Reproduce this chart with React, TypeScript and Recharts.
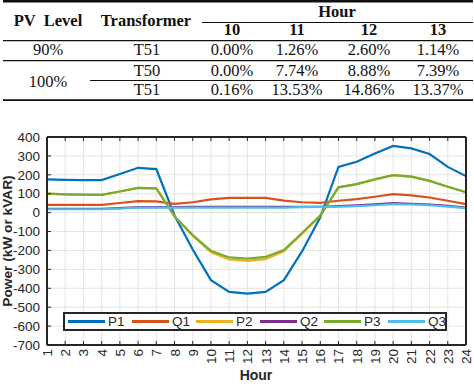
import { LineChart, Line, XAxis, YAxis, CartesianGrid } from 'recharts';

// table
const hourCols = ['10', '11', '12', '13'];
const pvLevels = ['90%', '100%'];
const row90T51 = ['0.00%', '1.26%', '2.60%', '1.14%'];
const row100T50 = ['0.00%', '7.74%', '8.88%', '7.39%'];
const row100T51 = ['0.16%', '13.53%', '14.86%', '13.37%'];

// chart
const hours = [1, 2, 3, 4, 5, 6, 7, 8, 9, 10, 11, 12, 13, 14, 15, 16, 17, 18, 19, 20, 21, 22, 23, 24];
const p1 = [176, 173, 172, 172, 204, 237, 230, -15, -195, -357, -419, -428, -419, -357, -205, -25, 242, 269, 313, 353, 340, 310, 242, 193];
const q1 = [41, 41, 41, 41, 51, 61, 60, 46, 55, 70, 78, 78, 78, 64, 55, 52, 63, 71, 84, 98, 91, 80, 63, 45];
const p2 = [101, 97, 95, 94, 112, 131, 128, -20, -122, -210, -248, -255, -246, -205, -112, -15, 134, 151, 176, 198, 190, 168, 137, 108];
const q2 = [20, 20, 20, 20, 24, 29, 29, 29, 30, 30, 30, 30, 30, 30, 31, 31, 34, 38, 44, 50, 47, 43, 36, 27];
const p3 = [101, 97, 95, 94, 112, 131, 128, -20, -119, -202, -237, -243, -234, -198, -108, -15, 134, 151, 176, 198, 190, 168, 137, 108];
const q3 = [18, 18, 18, 18, 22, 27, 27, 27, 27, 27, 27, 27, 27, 27, 29, 30, 31, 34, 39, 45, 43, 39, 32, 24];
const yTicks = [-700, -600, -500, -400, -300, -200, -100, 0, 100, 200, 300, 400];

const series = [
  { key: 'p1', name: 'P1', color: '#0072BD' },
  { key: 'q1', name: 'Q1', color: '#D95319' },
  { key: 'p2', name: 'P2', color: '#EDB120' },
  { key: 'q2', name: 'Q2', color: '#7E2F8E' },
  { key: 'p3', name: 'P3', color: '#77AC30' },
  { key: 'q3', name: 'Q3', color: '#4DBEEE' },
];

const data = hours.map((h, i) => ({
  hour: h, p1: p1[i], q1: q1[i], p2: p2[i], q2: q2[i], p3: p3[i], q3: q3[i],
}));

const AX = '#262626';
const FONT = '"Liberation Sans", Arial, Helvetica, sans-serif';
const SERIF = '"Liberation Serif", "Times New Roman", serif';

const LeftTick = ({ x, y, payload }: any) => (
  <g>
    <line x1={x} x2={x + 4} y1={y} y2={y} stroke={AX} strokeWidth={1} />
    <text x={x - 7} y={y} dy="0.35em" textAnchor="end" fontSize={13.5} fill={AX} fontFamily={FONT}>
      {payload.value}
    </text>
  </g>
);

const RightTick = ({ x, y }: any) => (
  <line x1={x - 4} x2={x} y1={y} y2={y} stroke={AX} strokeWidth={1} />
);

const BottomTick = ({ x, y, payload }: any) => (
  <g>
    <line x1={x} x2={x} y1={y - 4} y2={y} stroke={AX} strokeWidth={1} />
    <text
      x={x + 5}
      y={y + 4}
      transform={`rotate(-90, ${x + 5}, ${y + 4})`}
      textAnchor="end"
      fontSize={13.5}
      fill={AX}
      fontFamily={FONT}
    >
      {payload.value}
    </text>
  </g>
);

const TopTick = ({ x, y }: any) => (
  <line x1={x} x2={x} y1={y} y2={y + 4} stroke={AX} strokeWidth={1} />
);

const colX = [232, 297, 369, 438];

function Table() {
  const cell = (txt: string, x: number, y: number, bold = false) => (
    <text key={`${txt}-${x}-${y}`} x={x} y={y} textAnchor="middle" fontSize={16.5} fontFamily={SERIF}
      fontWeight={bold ? 'bold' : 'normal'} fill="#111" style={{ whiteSpace: 'pre' }}>
      {txt}
    </text>
  );
  return (
    <g>
      <line x1={3} x2={473} y1={1.2} y2={1.2} stroke="#111" strokeWidth={2.5} />
      {cell('PV  Level', 48, 26, true)}
      {cell('Transformer', 146, 26, true)}
      {cell('Hour', 337, 17, true)}
      <line x1={202} x2={473} y1={22.5} y2={22.5} stroke="#111" strokeWidth={1.2} />
      {hourCols.map((h, i) => cell(h, colX[i], 35, true))}
      <line x1={3} x2={473} y1={40.7} y2={40.7} stroke="#111" strokeWidth={1.2} />
      {cell(pvLevels[0], 48, 55)}
      {cell('T51', 147, 55)}
      {row90T51.map((v, i) => cell(v, colX[i], 55))}
      <line x1={3} x2={473} y1={60.7} y2={60.7} stroke="#111" strokeWidth={1.2} />
      {cell(pvLevels[1], 48, 87)}
      {cell('T50', 147, 76)}
      {row100T50.map((v, i) => cell(v, colX[i], 76))}
      <line x1={90} x2={473} y1={80.5} y2={80.5} stroke="#111" strokeWidth={1.2} />
      {cell('T51', 147, 95)}
      {row100T51.map((v, i) => cell(v, colX[i], 95))}
      <line x1={3} x2={473} y1={100.2} y2={100.2} stroke="#111" strokeWidth={1.8} />
    </g>
  );
}

export default function App() {
  return (
    <div style={{ position: 'absolute', left: 0, top: 0, width: 474, height: 384, background: '#fff', overflow: 'hidden' }}>
      <div style={{ position: 'absolute', left: 0, top: 0 }}>
        <LineChart width={474} height={384} data={data} margin={{ top: 136, right: 0, bottom: 0, left: 0 }}>
          <CartesianGrid stroke="#e4e4e4" strokeWidth={1} />
          <XAxis
            dataKey="hour"
            type="number"
            domain={[1, 24]}
            ticks={hours}
            interval={0}
            height={39}
            tickSize={0}
            tickMargin={0}
            tickLine={false}
            axisLine={{ stroke: AX, strokeWidth: 2 }}
            tick={<BottomTick />}
          />
          <XAxis
            xAxisId="top"
            orientation="top"
            dataKey="hour"
            type="number"
            domain={[1, 24]}
            ticks={hours}
            interval={0}
            height={1}
            tickSize={0}
            tickMargin={0}
            tickLine={false}
            axisLine={{ stroke: AX, strokeWidth: 2 }}
            tick={<TopTick />}
          />
          <YAxis
            type="number"
            domain={[-700, 400]}
            ticks={yTicks}
            interval={0}
            width={47}
            tickSize={0}
            tickMargin={0}
            tickLine={false}
            axisLine={{ stroke: AX, strokeWidth: 2 }}
            tick={<LeftTick />}
          />
          <YAxis
            yAxisId="right"
            orientation="right"
            type="number"
            domain={[-700, 400]}
            ticks={yTicks}
            interval={0}
            width={8}
            tickSize={0}
            tickMargin={0}
            tickLine={false}
            axisLine={{ stroke: AX, strokeWidth: 2 }}
            tick={<RightTick />}
          />
          {series.map(s => (
            <Line
              key={s.key}
              type="linear"
              dataKey={s.key}
              name={s.name}
              stroke={s.color}
              strokeWidth={2.2}
              dot={false}
              isAnimationActive={false}
            />
          ))}
        </LineChart>
      </div>

      {/* legend box inside the plot */}
      <div
        style={{
          position: 'absolute', left: 63, top: 312, width: 384, height: 19, boxSizing: 'border-box',
          border: `2px solid ${AX}`, background: '#fff', display: 'flex', alignItems: 'center',
          paddingLeft: 3, fontFamily: FONT, fontSize: 13.5, color: AX,
        }}
      >
        {series.map(s => (
          <div key={s.key} style={{ width: 64, display: 'flex', alignItems: 'center', flex: 'none' }}>
            <div style={{ width: 37, height: 2.2, background: s.color }} />
            <span style={{ marginLeft: 3, lineHeight: '15px' }}>{s.name}</span>
          </div>
        ))}
      </div>

      <svg width={474} height={384} style={{ position: 'absolute', left: 0, top: 0, pointerEvents: 'none' }}>
        <Table />
        <text x={12} y={241} transform="rotate(-90, 12, 241)" textAnchor="middle" fontSize={13.7}
          fontWeight="bold" fill={AX} fontFamily={FONT}>
          Power (kW or kVAR)
        </text>
        <text x={256} y={380} textAnchor="middle" fontSize={14} fontWeight="bold" fill={AX} fontFamily={FONT}>
          Hour
        </text>
      </svg>
    </div>
  );
}
